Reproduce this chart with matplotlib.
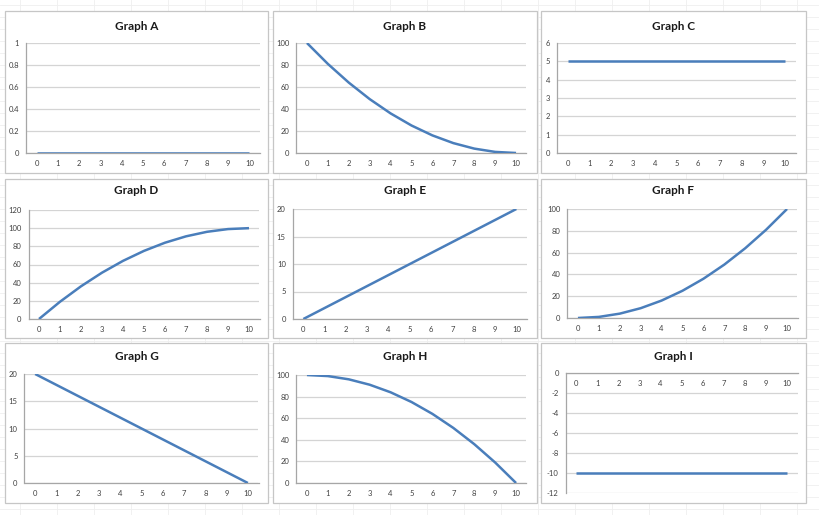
import matplotlib
matplotlib.use('Agg')
import matplotlib.pyplot as plt
from matplotlib.patches import Rectangle
from matplotlib.lines import Line2D
from matplotlib.ticker import FuncFormatter

plt.rcParams['font.family'] = ['Lato', 'DejaVu Sans']

# datos de cada grafica
x = [0, 1, 2, 3, 4, 5, 6, 7, 8, 9, 10]
titulos = ['Graph A', 'Graph B', 'Graph C', 'Graph D', 'Graph E',
           'Graph F', 'Graph G', 'Graph H', 'Graph I']
serie_a = [0, 0, 0, 0, 0, 0, 0, 0, 0, 0, 0]
serie_b = [100, 81, 64, 49, 36, 25, 16, 9, 4, 1, 0]
serie_c = [5, 5, 5, 5, 5, 5, 5, 5, 5, 5, 5]
serie_d = [0, 19, 36, 51, 64, 75, 84, 91, 96, 99, 100]
serie_e = [0, 2, 4, 6, 8, 10, 12, 14, 16, 18, 20]
serie_f = [0, 1, 4, 9, 16, 25, 36, 49, 64, 81, 100]
serie_g = [20, 18, 16, 14, 12, 10, 8, 6, 4, 2, 0]
serie_h = [100, 99, 96, 91, 84, 75, 64, 51, 36, 19, 0]
serie_i = [-10, -10, -10, -10, -10, -10, -10, -10, -10, -10, -10]
series = [serie_a, serie_b, serie_c, serie_d, serie_e, serie_f, serie_g, serie_h, serie_i]

# rangos del eje y (min, max, paso)
ejes_y = [(0, 1, 0.2), (0, 100, 20), (0, 6, 1),
          (0, 120, 20), (0, 20, 5), (0, 100, 20),
          (0, 20, 5), (0, 100, 20), (-12, 0, 2)]

W, H = 820, 515
# recuadros de cada grafica en pixeles (x0, y0, x1, y1)
cols = [(5, 268), (273, 537), (541, 806)]
rows = [(11, 173), (179, 338), (343, 503)]
# area de trazado en pixeles (x0, y0, x1, y1)
areas = [(26, 43, 260, 153), (296.5, 43, 526.5, 153), (557, 43, 796, 153),
         (28.5, 210, 259.5, 319), (292.7, 209, 527, 319), (567.5, 209, 797.5, 318),
         (24.5, 374, 258.5, 483), (296.5, 375, 526.5, 483), (565.7, 373.3, 797.7, 493.3)]
titulo_y = [26, 191, 356]


def fx(px):
    return px / W


def fy(py):
    return 1 - py / H


fig = plt.figure(figsize=(W / 100, H / 100), dpi=100)

# cuadricula tenue de la hoja de calculo
for yy in range(5, H, 12):
    fig.add_artist(Line2D([0, 1], [fy(yy), fy(yy)], color='#efefef', lw=0.6, zorder=0))
for xx in range(20, W, 37):
    fig.add_artist(Line2D([fx(xx), fx(xx)], [0, 1], color='#efefef', lw=0.6, zorder=0))

for i in range(9):
    r, c = i // 3, i % 3
    x0, x1 = cols[c]
    y0, y1 = rows[r]
    fig.add_artist(Rectangle((fx(x0), fy(y1)), fx(x1 - x0), (y1 - y0) / H,
                             facecolor='white', edgecolor='#c6c6c6', lw=0.9, zorder=1))
    fig.text(fx((x0 + x1) / 2), fy(titulo_y[r]), titulos[i], ha='center', va='center',
             fontsize=8.5, fontweight='bold', color='#1a1a1a', zorder=3)

    a0, b0, a1, b1 = areas[i]
    ax = fig.add_axes([fx(a0), fy(b1), fx(a1 - a0), (b1 - b0) / H], zorder=2)
    ax.patch.set_alpha(0)
    ymin, ymax, paso = ejes_y[i]
    ax.plot(x, series[i], color='#4a7ebb', lw=1.8, solid_capstyle='butt', zorder=3)
    ax.set_xlim(-0.5, 10.5)
    ax.set_ylim(ymin, ymax)
    n = int(round((ymax - ymin) / paso))
    ax.set_yticks([ymin + k * paso for k in range(n + 1)])
    ax.yaxis.set_major_formatter(FuncFormatter(lambda v, p: '%g' % round(v, 2)))
    ax.set_xticks(x)
    ax.grid(axis='y', color='#d4d4d4', lw=0.9)
    ax.set_axisbelow(True)
    for s in ['top', 'right']:
        ax.spines[s].set_visible(False)
    ax.spines['left'].set_color('#a6a6a6')
    ax.spines['bottom'].set_color('#a6a6a6')
    ax.spines['bottom'].set_position(('data', 0))
    ax.spines['left'].set_linewidth(0.9)
    ax.spines['bottom'].set_linewidth(0.9)
    ax.tick_params(length=0, labelsize=5.5, labelcolor='#404040', pad=5)

fig.savefig('out.png', dpi=100, facecolor='white')
